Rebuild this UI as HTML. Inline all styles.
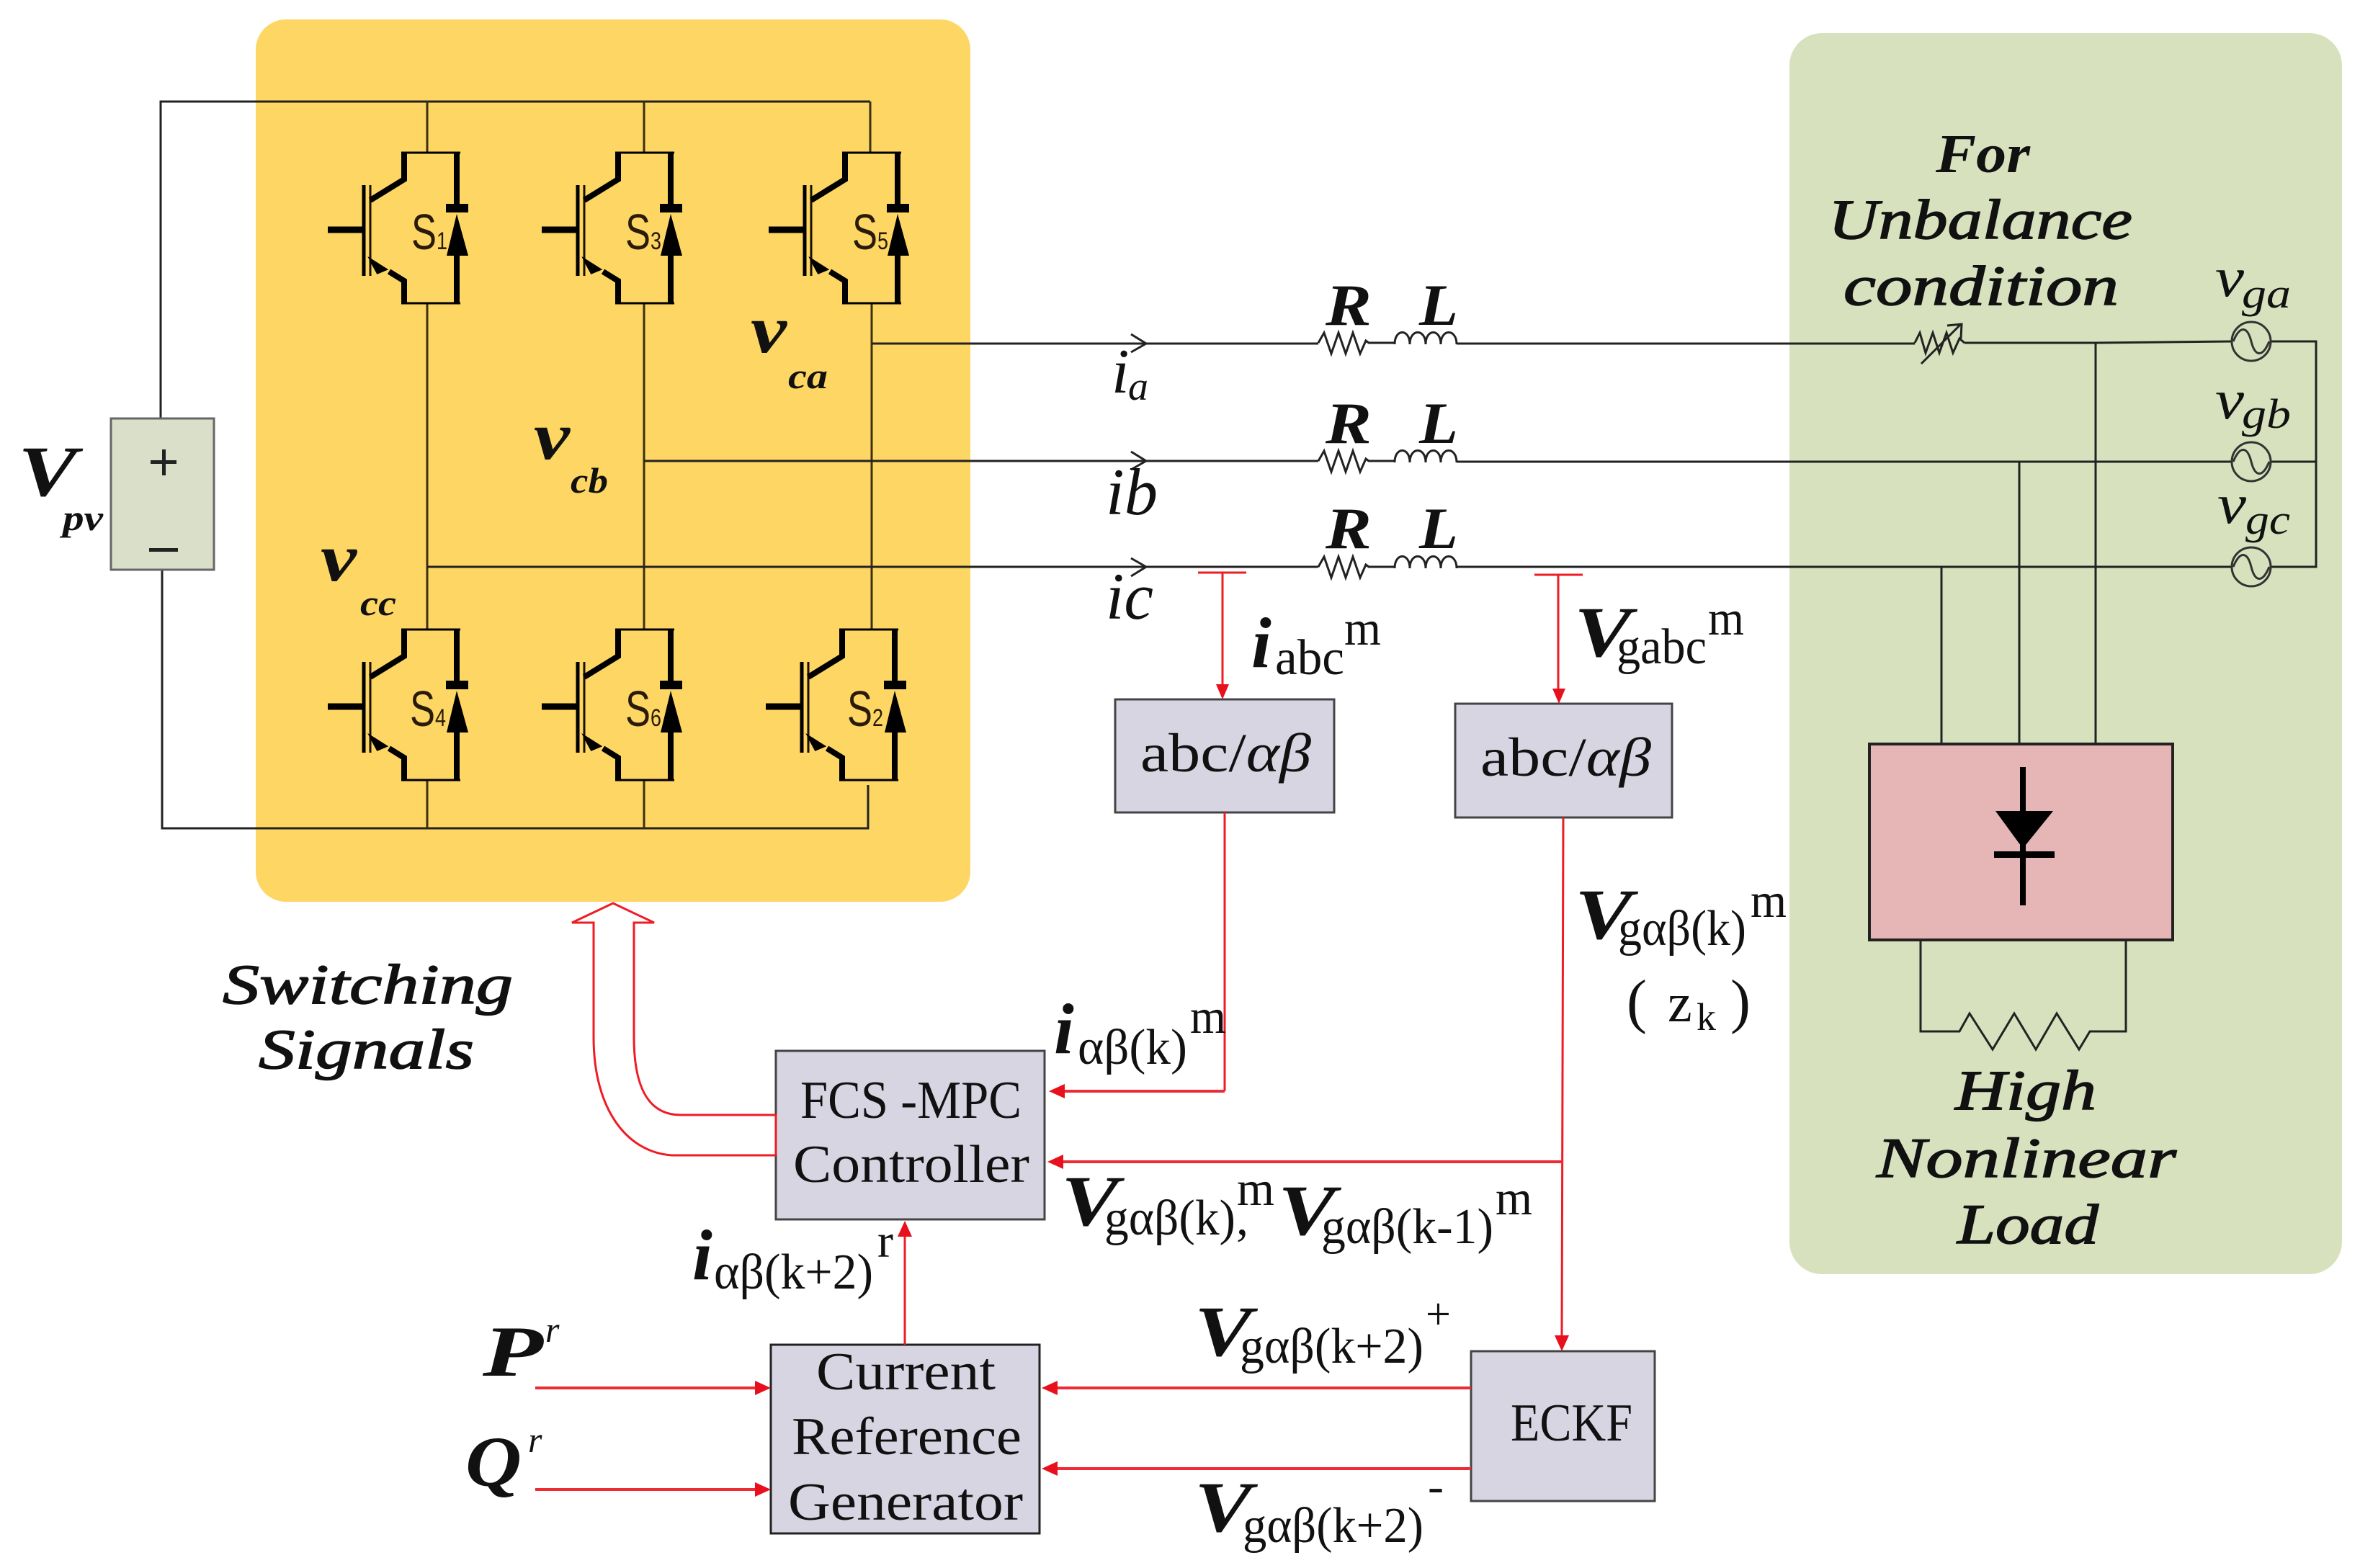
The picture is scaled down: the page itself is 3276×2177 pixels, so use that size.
<!DOCTYPE html>
<html>
<head>
<meta charset="utf-8">
<style>
html,body{margin:0;padding:0;background:#fff;width:3276px;height:2177px;overflow:hidden}
svg{display:block}
text{font-family:"Liberation Serif",serif;fill:#111}
.v{font-weight:bold;font-style:italic}
.i{font-style:italic}
.a{font-style:italic;stroke:#111;stroke-width:1.5}
.s{font-family:"Liberation Sans",sans-serif;fill:#2a1a0a}
.w{fill:none;stroke:#222;stroke-width:3}
.r{fill:none;stroke:#ee1c25;stroke-width:3}
.rt{fill:none;stroke:#ee2a33;stroke-width:4}
.h{fill:#e8101c}
</style>
</head>
<body>
<svg xmlns="http://www.w3.org/2000/svg" width="3276" height="2177" viewBox="0 0 3276 2177">
<defs>
<g id="igbt">
  <path d="M455 319H503" stroke="#000" stroke-width="9" fill="none"/>
  <path d="M505 257V383" stroke="#000" stroke-width="5" fill="none"/>
  <path d="M514 257V383" stroke="#1a1000" stroke-width="3" fill="none"/>
  <path d="M514 278L561 249V212" stroke="#000" stroke-width="8" fill="none"/>
  <path d="M557 212H639" stroke="#000" stroke-width="3" fill="none"/>
  <path d="M634 212V285" stroke="#000" stroke-width="8" fill="none"/>
  <rect x="619" y="283" width="31" height="12" fill="#000"/>
  <path d="M634 297L650 355H620Z" fill="#000"/>
  <path d="M634 352V421" stroke="#000" stroke-width="8" fill="none"/>
  <path d="M557 421H639" stroke="#000" stroke-width="3" fill="none"/>
  <path d="M561 421V390L540 377" stroke="#000" stroke-width="8" fill="none"/>
  <path d="M514 360L536 374 524 379 517 366Z" fill="#000" stroke="#000" stroke-width="3"/>
</g>
<g id="rl">
  <path class="w" d="M1830 0L1838 -14 1848 15 1858 -14 1868 15 1878 -14 1888 15 1896 -3 1900 0H1936"/>
  <path class="w" d="M1936 2C1936 -20 1957 -20 1957 2C1957 -20 1979 -20 1979 2C1979 -20 2000 -20 2000 2C2000 -20 2022 -20 2022 2"/>
</g>
<g id="src">
  <circle r="27" fill="none" stroke="#333" stroke-width="3"/>
  <path d="M-25 0C-15 -24 -5 -20 0 0S15 24 25 0" fill="none" stroke="#333" stroke-width="3"/>
</g>
</defs>

<!-- Panels -->
<rect x="355" y="27" width="992" height="1225" rx="42" fill="#fdd663"/>
<rect x="2484" y="46" width="767" height="1723" rx="45" fill="#d7e1bd"/>

<!-- DC bus -->
<path class="w" d="M223 581V141H1208"/>
<path class="w" d="M225 791V1150H1205V1090"/>
<path d="M593 141V212M894 141V212M1208 141V212M593 421V874M894 421V874M1210 421V874M593 1083V1150M894 1083V1150" stroke="#3b3010" stroke-width="3" fill="none"/>
<rect x="154" y="581" width="143" height="210" fill="#dadfc9" stroke="#666" stroke-width="3"/>
<rect x="209" y="639" width="36" height="5" fill="#222"/><rect x="225" y="624" width="5" height="36" fill="#222"/>
<rect x="207" y="761" width="40" height="5" fill="#222"/>

<!-- Switches -->
<use href="#igbt"/>
<use href="#igbt" x="297"/>
<use href="#igbt" x="612"/>
<use href="#igbt" y="662"/>
<use href="#igbt" x="297" y="662"/>
<use href="#igbt" x="608" y="662"/>
<text class="s" x="571" y="346" font-size="70" textLength="35" lengthAdjust="spacingAndGlyphs">S</text><text class="s" x="606" y="346" font-size="34" textLength="15" lengthAdjust="spacingAndGlyphs">1</text>
<text class="s" x="868" y="346" font-size="70" textLength="35" lengthAdjust="spacingAndGlyphs">S</text><text class="s" x="903" y="346" font-size="34" textLength="15" lengthAdjust="spacingAndGlyphs">3</text>
<text class="s" x="1183" y="346" font-size="70" textLength="35" lengthAdjust="spacingAndGlyphs">S</text><text class="s" x="1218" y="346" font-size="34" textLength="15" lengthAdjust="spacingAndGlyphs">5</text>
<text class="s" x="569" y="1008" font-size="70" textLength="35" lengthAdjust="spacingAndGlyphs">S</text><text class="s" x="604" y="1008" font-size="34" textLength="15" lengthAdjust="spacingAndGlyphs">4</text>
<text class="s" x="868" y="1008" font-size="70" textLength="35" lengthAdjust="spacingAndGlyphs">S</text><text class="s" x="903" y="1008" font-size="34" textLength="15" lengthAdjust="spacingAndGlyphs">6</text>
<text class="s" x="1176" y="1008" font-size="70" textLength="35" lengthAdjust="spacingAndGlyphs">S</text><text class="s" x="1211" y="1008" font-size="34" textLength="15" lengthAdjust="spacingAndGlyphs">2</text>

<!-- Phase wires -->
<path class="w" d="M1210 477H1830M2022 477H2658M2727 476H2909L3098 474M3152 474H3215V787H3152M894 640H1830M2022 641H3098M3152 641H3215M593 787H1830M2022 787H3098"/>
<use href="#rl" y="476"/><use href="#rl" y="640"/><use href="#rl" y="787"/>
<path class="w" d="M1570 464L1591 477 1570 489M1570 627L1591 640 1570 652M1570 775L1591 787 1570 800" stroke-width="2"/>
<path class="w" stroke-width="2" d="M2658 476L2665 462 2673 490 2683 462 2692 490 2702 462 2711 490 2720 470 2727 476"/>
<path class="w" stroke-width="2" d="M2667 505L2722 450M2703 452L2723 450 2722 470"/>
<path class="w" d="M2909 476V1033M2803 641V1033M2695 787V1033"/>
<use href="#src" x="3125" y="474"/><use href="#src" x="3125" y="641"/><use href="#src" x="3125" y="787"/>

<!-- Nonlinear load -->
<rect x="2595" y="1033" width="421" height="272" fill="#e6b5b5" stroke="#222" stroke-width="4"/>
<path d="M2808 1065V1257" stroke="#000" stroke-width="8"/>
<path d="M2770 1126H2850L2808 1178Z" fill="#000"/>
<rect x="2768" y="1182" width="84" height="9" fill="#000"/>
<path class="w" d="M2666 1305V1432H2720L2734 1407 2766 1457 2796 1407 2826 1457 2855 1407 2886 1457 2901 1432H2951V1305"/>

<!-- Blocks -->
<rect x="1548" y="971" width="304" height="157" fill="#d8d5e3" stroke="#444" stroke-width="3"/>
<rect x="2020" y="977" width="301" height="158" fill="#d8d5e3" stroke="#444" stroke-width="3"/>
<rect x="1077" y="1459" width="373" height="234" fill="#d8d5e3" stroke="#444" stroke-width="3"/>
<rect x="1070" y="1867" width="373" height="262" fill="#d8d5e3" stroke="#222" stroke-width="3"/>
<rect x="2042" y="1876" width="255" height="208" fill="#d8d5e3" stroke="#444" stroke-width="3"/>

<!-- Red signal lines -->
<path class="r" d="M1663 795H1730M1697 795V952M2130 798H2197M2163 798V957"/>
<path class="h" d="M1697 971L1688 950H1706ZM2164 977L2155 956H2173Z"/>
<path class="r" d="M1700 1128V1515"/>
<path class="rt" d="M1700 1515H1476"/>
<path class="h" d="M1456 1515L1478 1505V1525Z"/>
<path class="r" d="M2170 1135L2168 1856"/>
<path class="h" d="M2168 1876L2158 1854H2178Z"/>
<path class="rt" d="M2169 1613H1474"/>
<path class="h" d="M1454 1613L1476 1603V1623Z"/>
<path class="r" d="M1256 1867V1713"/>
<path class="h" d="M1256 1695L1266 1717H1246Z"/>
<path class="rt" d="M743 1927H1050M743 2068H1050"/>
<path class="h" d="M1070 1927L1048 1917V1937ZM1070 2068L1048 2058V2078Z"/>
<path class="rt" d="M2042 1927H1466M2042 2039H1466"/>
<path class="h" d="M1446 1927L1468 1917V1937ZM1446 2039L1468 2029V2049Z"/>
<!-- Hollow arrow -->
<path class="r" d="M1077 1604H933C870 1600 824 1540 824 1440V1281H794L851 1254 908 1281H880V1440C880 1510 900 1548 945 1548H1077V1604"/>

<!-- Block text -->
<text x="1583" y="1071" font-size="76" textLength="237" lengthAdjust="spacingAndGlyphs">abc/<tspan class="i">αβ</tspan></text>
<text x="2055" y="1077" font-size="76" textLength="237" lengthAdjust="spacingAndGlyphs">abc/<tspan class="i">αβ</tspan></text>
<text x="1111" y="1552" font-size="74" textLength="307" lengthAdjust="spacingAndGlyphs">FCS -MPC</text>
<text x="1101" y="1641" font-size="74" textLength="328" lengthAdjust="spacingAndGlyphs">Controller</text>
<text x="1133" y="1929" font-size="74" textLength="249" lengthAdjust="spacingAndGlyphs">Current</text>
<text x="1099" y="2019" font-size="74" textLength="319" lengthAdjust="spacingAndGlyphs">Reference</text>
<text x="1094" y="2110" font-size="74" textLength="326" lengthAdjust="spacingAndGlyphs">Generator</text>
<text x="2097" y="2000" font-size="74" textLength="169" lengthAdjust="spacingAndGlyphs">ECKF</text>

<!-- Vpv and phase voltages -->
<text class="v" x="25" y="688" font-size="100" textLength="82" lengthAdjust="spacingAndGlyphs">V</text>
<text class="v" x="87" y="736" font-size="50" textLength="56" lengthAdjust="spacingAndGlyphs">pv</text>
<text class="v" x="1042" y="489" font-size="94" textLength="50" lengthAdjust="spacingAndGlyphs">v</text>
<text class="v" x="1094" y="539" font-size="50" textLength="55" lengthAdjust="spacingAndGlyphs">ca</text>
<text class="v" x="741" y="637" font-size="94" textLength="50" lengthAdjust="spacingAndGlyphs">v</text>
<text class="v" x="792" y="684" font-size="50" textLength="52" lengthAdjust="spacingAndGlyphs">cb</text>
<text class="v" x="445" y="806" font-size="94" textLength="50" lengthAdjust="spacingAndGlyphs">v</text>
<text class="v" x="500" y="854" font-size="50" textLength="50" lengthAdjust="spacingAndGlyphs">cc</text>

<!-- Currents -->
<text class="i" x="1543" y="545" font-size="88">i</text><text class="i" x="1566" y="555" font-size="56">a</text>
<text class="i" x="1535" y="714" font-size="92" textLength="72" lengthAdjust="spacingAndGlyphs">ib</text>
<text class="i" x="1535" y="859" font-size="92" textLength="66" lengthAdjust="spacingAndGlyphs">ic</text>

<!-- R L -->
<text class="v" x="1840" y="451" font-size="82" textLength="64" lengthAdjust="spacingAndGlyphs">R</text><text class="v" x="1970" y="451" font-size="82" textLength="54" lengthAdjust="spacingAndGlyphs">L</text>
<text class="v" x="1840" y="615" font-size="82" textLength="64" lengthAdjust="spacingAndGlyphs">R</text><text class="v" x="1970" y="615" font-size="82" textLength="54" lengthAdjust="spacingAndGlyphs">L</text>
<text class="v" x="1840" y="761" font-size="82" textLength="64" lengthAdjust="spacingAndGlyphs">R</text><text class="v" x="1970" y="761" font-size="82" textLength="54" lengthAdjust="spacingAndGlyphs">L</text>

<!-- Measurements -->
<text class="v" x="1737" y="926" font-size="100">i</text><text x="1770" y="936" font-size="70" textLength="96" lengthAdjust="spacingAndGlyphs">abc</text><text x="1866" y="895" font-size="68" textLength="51" lengthAdjust="spacingAndGlyphs">m</text>
<text class="v" x="2185" y="911" font-size="100" textLength="80" lengthAdjust="spacingAndGlyphs">V</text><text x="2244" y="921" font-size="70" textLength="125" lengthAdjust="spacingAndGlyphs">gabc</text><text x="2371" y="881" font-size="68" textLength="50" lengthAdjust="spacingAndGlyphs">m</text>
<text class="v" x="2186" y="1303" font-size="100" textLength="80" lengthAdjust="spacingAndGlyphs">V</text><text x="2246" y="1312" font-size="70" textLength="178" lengthAdjust="spacingAndGlyphs">gαβ(k)</text><text x="2430" y="1273" font-size="68" textLength="50" lengthAdjust="spacingAndGlyphs">m</text>
<text x="2258" y="1418" font-size="84">(</text><text x="2315" y="1418" font-size="76">z</text><text x="2355" y="1430" font-size="54">k</text><text x="2402" y="1418" font-size="84">)</text>
<text class="v" x="1463" y="1462" font-size="100">i</text><text x="1496" y="1477" font-size="70" textLength="152" lengthAdjust="spacingAndGlyphs">αβ(k)</text><text x="1652" y="1434" font-size="68" textLength="50" lengthAdjust="spacingAndGlyphs">m</text>
<text class="v" x="1473" y="1701" font-size="100" textLength="80" lengthAdjust="spacingAndGlyphs">V</text><text x="1533" y="1714" font-size="70" textLength="182" lengthAdjust="spacingAndGlyphs">gαβ(k)</text><text x="1716" y="1714" font-size="68">,</text><text x="1717" y="1673" font-size="68" textLength="52" lengthAdjust="spacingAndGlyphs">m</text>
<text class="v" x="1774" y="1714" font-size="100" textLength="80" lengthAdjust="spacingAndGlyphs">V</text><text x="1834" y="1726" font-size="70" textLength="239" lengthAdjust="spacingAndGlyphs">gαβ(k-1)</text><text x="2076" y="1686" font-size="68" textLength="51" lengthAdjust="spacingAndGlyphs">m</text>
<text class="v" x="961" y="1776" font-size="100">i</text><text x="991" y="1789" font-size="70" textLength="221" lengthAdjust="spacingAndGlyphs">αβ(k+2)</text><text x="1218" y="1745" font-size="66">r</text>
<text class="v" x="670" y="1910" font-size="100" textLength="84" lengthAdjust="spacingAndGlyphs">P</text><text class="i" x="757" y="1863" font-size="50">r</text>
<text class="v" x="646" y="2063" font-size="100" textLength="78" lengthAdjust="spacingAndGlyphs">Q</text><text class="i" x="733" y="2016" font-size="50">r</text>
<text class="v" x="1658" y="1882" font-size="100" textLength="80" lengthAdjust="spacingAndGlyphs">V</text><text x="1721" y="1892" font-size="70" textLength="255" lengthAdjust="spacingAndGlyphs">gαβ(k+2)</text><text x="1979" y="1845" font-size="62">+</text>
<text class="v" x="1658" y="2126" font-size="100" textLength="80" lengthAdjust="spacingAndGlyphs">V</text><text x="1725" y="2141" font-size="70" textLength="251" lengthAdjust="spacingAndGlyphs">gαβ(k+2)</text><text x="1982" y="2085" font-size="66">-</text>

<!-- Grid voltages -->
<text class="i" x="3075" y="411" font-size="78" textLength="40" lengthAdjust="spacingAndGlyphs">v</text><text class="i" x="3112" y="427" font-size="58" textLength="68" lengthAdjust="spacingAndGlyphs">ga</text>
<text class="i" x="3075" y="581" font-size="78" textLength="40" lengthAdjust="spacingAndGlyphs">v</text><text class="i" x="3112" y="594" font-size="58" textLength="68" lengthAdjust="spacingAndGlyphs">gb</text>
<text class="i" x="3078" y="726" font-size="78" textLength="40" lengthAdjust="spacingAndGlyphs">v</text><text class="i" x="3117" y="741" font-size="58" textLength="62" lengthAdjust="spacingAndGlyphs">gc</text>

<!-- Annotations -->
<text class="v" x="2687" y="239" font-size="76" textLength="131" lengthAdjust="spacingAndGlyphs">For</text>
<text class="a" x="2538" y="331" font-size="78" textLength="422" lengthAdjust="spacingAndGlyphs">Unbalance</text>
<text class="a" x="2559" y="423" font-size="78" textLength="382" lengthAdjust="spacingAndGlyphs">condition</text>
<text class="a" x="309" y="1393" font-size="78" textLength="403" lengthAdjust="spacingAndGlyphs">Switching</text>
<text class="a" x="359" y="1483" font-size="78" textLength="299" lengthAdjust="spacingAndGlyphs">Signals</text>
<text class="a" x="2714" y="1540" font-size="78" textLength="196" lengthAdjust="spacingAndGlyphs">High</text>
<text class="a" x="2605" y="1634" font-size="78" textLength="416" lengthAdjust="spacingAndGlyphs">Nonlinear</text>
<text class="a" x="2717" y="1726" font-size="78" textLength="196" lengthAdjust="spacingAndGlyphs">Load</text>
</svg>
</body>
</html>
